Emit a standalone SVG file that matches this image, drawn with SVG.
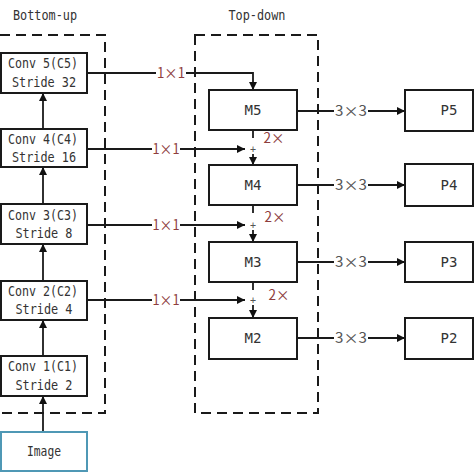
<svg xmlns="http://www.w3.org/2000/svg" width="474" height="474" viewBox="0 0 474 474">
<defs>
<marker id="ah" viewBox="0 0 10 10" refX="10" refY="5" markerWidth="8" markerHeight="8" markerUnits="userSpaceOnUse" orient="auto">
<path d="M0,0 L10,5 L0,10 z" fill="#111"/>
</marker>
<style>
.box{fill:#fff;stroke:#1a1a1a;stroke-width:2}
.img{fill:#fff;stroke:#4f98b5;stroke-width:2}
.dash{fill:none;stroke:#1a1a1a;stroke-width:2;stroke-dasharray:10 6}
.ln{fill:none;stroke:#1a1a1a;stroke-width:1.8}
.arr{fill:none;stroke:#1a1a1a;stroke-width:1.8;marker-end:url(#ah)}
.t{font-family:"DejaVu Sans Mono","Liberation Mono",monospace;font-size:14px;fill:#333;text-anchor:middle}
.r{font-family:"Noto Sans CJK SC","DejaVu Sans",sans-serif;font-size:14px;fill:#8e3d3d;text-anchor:middle}
.g{font-family:"Noto Sans CJK SC","DejaVu Sans",sans-serif;font-size:14px;fill:#555;text-anchor:middle}
.pl{font-family:"DejaVu Sans Mono",monospace;font-size:10px;fill:#555;text-anchor:middle}
</style>
</defs>
<rect width="474" height="474" fill="#fff"/>

<g id="labels">
<text class="t" x="45" y="20" textLength="64" lengthAdjust="spacingAndGlyphs">Bottom-up</text>
<text class="t" x="257" y="20" textLength="57" lengthAdjust="spacingAndGlyphs">Top-down</text>
</g>

<g id="groups">
<path class="dash" d="M0,35 H105 V413 H0"/>
<rect class="dash" x="195" y="35" width="123" height="378"/>
</g>

<g id="connectors">
<line class="arr" x1="43" y1="129" x2="43" y2="93"/>
<line class="arr" x1="43" y1="204" x2="43" y2="167"/>
<line class="arr" x1="43" y1="281" x2="43" y2="244"/>
<line class="arr" x1="43" y1="356" x2="43" y2="320"/>
<line class="arr" x1="43" y1="432" x2="43" y2="396"/>

<line class="ln" x1="87" y1="73" x2="156" y2="73"/>
<path class="arr" d="M186,73 H253 V90"/>
<line class="ln" x1="87" y1="149" x2="152" y2="149"/>
<line class="arr" x1="180" y1="149" x2="245" y2="149"/>
<line class="ln" x1="87" y1="225" x2="152" y2="225"/>
<line class="arr" x1="180" y1="225" x2="245" y2="225"/>
<line class="ln" x1="87" y1="300" x2="152" y2="300"/>
<line class="arr" x1="180" y1="300" x2="245" y2="300"/>

<line class="ln" x1="253" y1="130" x2="253" y2="138"/>
<line class="arr" x1="253" y1="154" x2="253" y2="165"/>
<line class="ln" x1="253" y1="205" x2="253" y2="213"/>
<line class="arr" x1="253" y1="230" x2="253" y2="242"/>
<line class="ln" x1="253" y1="282" x2="253" y2="290"/>
<line class="arr" x1="253" y1="305" x2="253" y2="318"/>

<line class="ln" x1="297" y1="111" x2="334" y2="111"/>
<line class="arr" x1="368" y1="111" x2="405" y2="111"/>
<line class="ln" x1="297" y1="185" x2="334" y2="185"/>
<line class="arr" x1="368" y1="185" x2="405" y2="185"/>
<line class="ln" x1="297" y1="262" x2="334" y2="262"/>
<line class="arr" x1="368" y1="262" x2="405" y2="262"/>
<line class="ln" x1="297" y1="338" x2="334" y2="338"/>
<line class="arr" x1="368" y1="338" x2="405" y2="338"/>

<text class="r" x="171" y="78" textLength="28" lengthAdjust="spacingAndGlyphs">1×1</text>
<text class="r" x="166" y="154" textLength="27" lengthAdjust="spacingAndGlyphs">1×1</text>
<text class="r" x="166" y="230" textLength="27" lengthAdjust="spacingAndGlyphs">1×1</text>
<text class="r" x="166" y="305" textLength="27" lengthAdjust="spacingAndGlyphs">1×1</text>

<text class="pl" x="253" y="153">+</text>
<text class="pl" x="253" y="229">+</text>
<text class="pl" x="253" y="304">+</text>

<text class="r" x="274" y="143" textLength="21" lengthAdjust="spacingAndGlyphs">2×</text>
<text class="r" x="275" y="222" textLength="21" lengthAdjust="spacingAndGlyphs">2×</text>
<text class="r" x="279" y="300" textLength="21" lengthAdjust="spacingAndGlyphs">2×</text>

<text class="g" x="351" y="116" textLength="32" lengthAdjust="spacingAndGlyphs">3×3</text>
<text class="g" x="351" y="190" textLength="32" lengthAdjust="spacingAndGlyphs">3×3</text>
<text class="g" x="351" y="267" textLength="32" lengthAdjust="spacingAndGlyphs">3×3</text>
<text class="g" x="351" y="343" textLength="32" lengthAdjust="spacingAndGlyphs">3×3</text>
</g>

<g id="C5"><rect class="box" x="1" y="53" width="86" height="40"/>
<text class="t" x="43" y="68" textLength="70" lengthAdjust="spacingAndGlyphs">Conv 5(C5)</text>
<text class="t" x="44" y="87" textLength="64" lengthAdjust="spacingAndGlyphs">Stride 32</text></g>
<g id="C4"><rect class="box" x="1" y="129" width="86" height="38"/>
<text class="t" x="43" y="144" textLength="70" lengthAdjust="spacingAndGlyphs">Conv 4(C4)</text>
<text class="t" x="44" y="162" textLength="64" lengthAdjust="spacingAndGlyphs">Stride 16</text></g>
<g id="C3"><rect class="box" x="1" y="204" width="86" height="40"/>
<text class="t" x="43" y="220" textLength="70" lengthAdjust="spacingAndGlyphs">Conv 3(C3)</text>
<text class="t" x="44" y="238" textLength="57" lengthAdjust="spacingAndGlyphs">Stride 8</text></g>
<g id="C2"><rect class="box" x="1" y="281" width="86" height="39"/>
<text class="t" x="43" y="296" textLength="70" lengthAdjust="spacingAndGlyphs">Conv 2(C2)</text>
<text class="t" x="44" y="314" textLength="57" lengthAdjust="spacingAndGlyphs">Stride 4</text></g>
<g id="C1"><rect class="box" x="1" y="356" width="86" height="40"/>
<text class="t" x="43" y="371" textLength="70" lengthAdjust="spacingAndGlyphs">Conv 1(C1)</text>
<text class="t" x="44" y="390" textLength="57" lengthAdjust="spacingAndGlyphs">Stride 2</text></g>
<g id="Image"><rect class="img" x="1" y="432" width="86" height="39"/>
<text class="t" x="44" y="456" textLength="34" lengthAdjust="spacingAndGlyphs">Image</text></g>

<g id="M5"><rect class="box" x="209" y="90" width="88" height="40"/><text class="t" x="253" y="115" textLength="17" lengthAdjust="spacingAndGlyphs">M5</text></g>
<g id="M4"><rect class="box" x="209" y="165" width="88" height="40"/><text class="t" x="253" y="190" textLength="17" lengthAdjust="spacingAndGlyphs">M4</text></g>
<g id="M3"><rect class="box" x="209" y="242" width="88" height="40"/><text class="t" x="253" y="267" textLength="17" lengthAdjust="spacingAndGlyphs">M3</text></g>
<g id="M2"><rect class="box" x="209" y="318" width="88" height="41"/><text class="t" x="253" y="343" textLength="17" lengthAdjust="spacingAndGlyphs">M2</text></g>

<g id="P5"><rect class="box" x="405" y="90" width="68" height="41"/><text class="t" x="449" y="115">P5</text></g>
<g id="P4"><rect class="box" x="405" y="164" width="68" height="42"/><text class="t" x="449" y="190">P4</text></g>
<g id="P3"><rect class="box" x="405" y="242" width="68" height="40"/><text class="t" x="449" y="267">P3</text></g>
<g id="P2"><rect class="box" x="405" y="318" width="68" height="41"/><text class="t" x="449" y="343">P2</text></g>
</svg>
